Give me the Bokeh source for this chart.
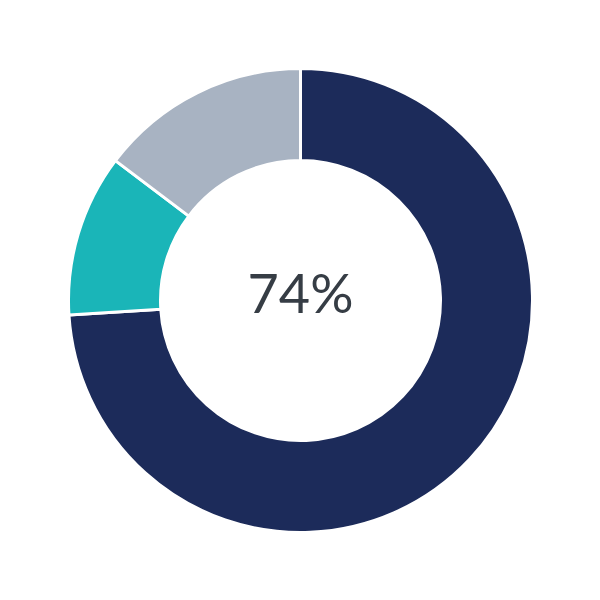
import math
from bokeh.plotting import figure
from bokeh.models import ColumnDataSource
from bokeh.core.properties import value
from bokeh.embed import file_html
from bokeh.resources import INLINE

categories = ["Segment A", "Segment B", "Segment C"]
shares = [74, 11.3, 14.7]
colors = ["#1c2b5a", "#1ab5b8", "#a8b3c2"]
center_label = "74%"

total = sum(shares)
starts, ends = [], []
acc = 0.0
for s in shares:
    a0 = math.pi / 2 - 2 * math.pi * acc / total
    acc += s
    a1 = math.pi / 2 - 2 * math.pi * acc / total
    starts.append(a0)
    ends.append(a1)

src = ColumnDataSource(dict(cat=categories, share=shares, color=colors,
                            start=starts, end=ends))

p = figure(width=584, height=584, x_range=(-300, 284), y_range=(-284, 300),
           output_backend="svg", toolbar_location=None, min_border=0)
p.axis.visible = False
p.grid.visible = False
p.outline_line_color = None
p.background_fill_color = "white"

p.annular_wedge(x=0, y=0, inner_radius=140, outer_radius=232,
                start_angle="start", end_angle="end", direction="clock",
                fill_color="color", line_color="white", line_width=3, source=src)

p.text(x=[0], y=[8], text=[center_label], text_align="center",
       text_baseline="alphabetic", text_font=value("Lato"),
       text_font_size="54px", text_color="#363d45")

open("out.html", "w").write(file_html(p, INLINE))
